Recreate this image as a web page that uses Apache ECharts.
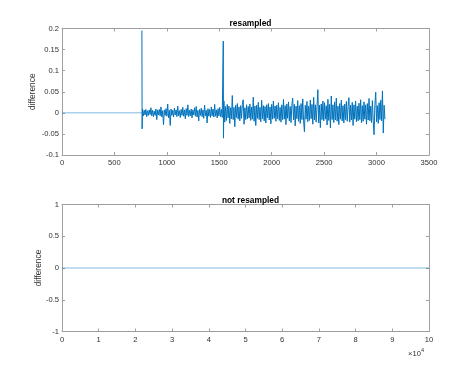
<!DOCTYPE html>
<html>
<head>
<meta charset="utf-8">
<script src="https://cdn.jsdelivr.net/npm/echarts@6/dist/echarts.min.js"></script>
<style>html,body{margin:0;padding:0;background:#fff;}#c{width:474px;height:373px;}</style>
</head>
<body>
<div id="c"></div>
<script>
// ---- data ----
var topXTicks = [0, 500, 1000, 1500, 2000, 2500, 3000, 3500];
var topYTicks = [-0.1, -0.05, 0, 0.05, 0.1, 0.15, 0.2];
var bottomXTicks = [0, 10000, 20000, 30000, 40000, 50000, 60000, 70000, 80000, 90000, 100000];
var bottomYTicks = [-1, -0.5, 0, 0.5, 1];

// flat part before the first jump (sample index, value)
var flatX = [0, 762];
var flatY = [0, 0];
// first spike
var spike1X = [762, 764];
var spike1Y = [0.195, -0.038];
// noise after first spike, one value every 8 samples
var noiseAStart = 768, noiseAStep = 8;
var noiseA = [
 0.009,-0.007,0.006,-0.005,0.008,-0.009,0.005,-0.006,0.007,-0.004,
 0.012,-0.007,0.006,-0.009,0.004,-0.006,0.009,-0.016,0.007,-0.005,
 0.008,-0.007,0.014,-0.010,0.005,-0.028,0.007,-0.006,0.010,-0.008,
 0.021,-0.012,0.006,-0.030,0.009,-0.006,0.006,-0.010,0.011,-0.005,
 0.007,-0.009,0.016,-0.007,0.005,-0.011,0.008,-0.006,0.013,-0.008,
 0.007,-0.014,0.010,-0.006,0.019,-0.009,0.006,-0.007,0.009,-0.012,
 0.007,-0.005,0.012,-0.008,0.015,-0.010,0.006,-0.019,0.008,-0.006,
 0.011,-0.009,0.007,-0.013,0.018,-0.007,0.006,-0.024,0.010,-0.008,
 0.008,-0.011,0.014,-0.007,0.009,-0.010,0.020,-0.008,0.007,-0.012,
 0.010,-0.007,0.013,-0.009,0.008,-0.011
];
// second spike
var spike2X = [1538, 1540];
var spike2Y = [0.17, -0.06];
// noise after second spike, one value every 8 samples
var noiseBStart = 1544, noiseBStep = 8;
var noiseB = [
 0.028,-0.022,0.015,-0.018,0.020,-0.012,0.016,-0.025,0.012,-0.014,
 0.041,-0.016,0.013,-0.033,0.018,-0.011,0.022,-0.015,0.014,-0.019,
 0.017,-0.013,0.020,0.031,-0.027,0.012,-0.016,0.019,-0.014,0.015,
 -0.012,0.021,-0.018,0.014,-0.015,0.037,-0.020,0.016,-0.030,0.018,
 -0.013,0.025,-0.016,0.013,-0.021,0.030,-0.014,0.017,-0.019,0.015,
 -0.024,0.019,-0.012,0.022,-0.017,0.014,-0.026,0.020,-0.015,0.028,
 -0.013,0.016,-0.020,0.018,-0.014,0.024,-0.018,0.013,-0.022,0.019,
 -0.016,0.032,-0.015,0.017,-0.028,0.021,-0.013,0.026,-0.019,0.015,
 -0.023,0.018,0.035,-0.017,0.020,-0.031,0.016,-0.014,0.029,-0.020,
 0.017,-0.025,0.022,-0.016,0.033,-0.019,-0.045,0.018,-0.015,0.027,
 -0.021,0.016,-0.018,0.030,-0.014,0.020,-0.027,0.037,-0.017,0.019,
 -0.022,0.015,0.055,-0.024,0.018,-0.035,0.021,-0.016,0.028,-0.019,
 0.024,-0.015,0.017,-0.029,0.032,-0.018,0.020,-0.036,0.040,-0.016,
 0.019,-0.023,0.026,-0.017,0.035,-0.020,0.016,-0.028,0.022,-0.015,
 0.030,-0.019,0.017,-0.024,0.021,-0.016,0.027,-0.020,0.015,0.036,
 -0.022,0.018,-0.017,0.025,-0.030,0.019,-0.015,0.028,-0.021,0.016,
 -0.019,0.023,-0.016,0.031,-0.024,0.017,-0.020,0.026,-0.015,0.019,
 -0.027,0.022,-0.017,0.034,-0.019,0.016,-0.023,0.029,-0.018,-0.052,
 0.020,0.049,-0.021,0.017,-0.025,0.024,-0.016,0.030,-0.019,0.052,
 -0.048,0.018,-0.015
];
// bottom panel: difference without resampling (all zero)
var bottomX = [0, 100000];
var bottomY = [0, 0];

// ---- build ----
function pairs(xs, ys) { return xs.map(function (x, i) { return [x, ys[i]]; }); }
function stepped(start, step, ys) { return ys.map(function (y, i) { return [start + i * step, y]; }); }
var flatData = pairs(flatX, flatY);
var noiseData = [].concat(
  pairs(spike1X, spike1Y),
  stepped(noiseAStart, noiseAStep, noiseA),
  pairs(spike2X, spike2Y),
  stepped(noiseBStart, noiseBStep, noiseB)
);
var bottomData = pairs(bottomX, bottomY);

var FONT = 'Liberation Sans';
var AX = '#a0a0a0';
var TXT = '#303030';
function xAx(grid, ticks, pos, labels, fmt) {
  return {
    type: 'value', gridIndex: grid, position: pos,
    min: ticks[0], max: ticks[ticks.length - 1],
    interval: ticks[1] - ticks[0],
    axisLine: { show: true, onZero: false, lineStyle: { color: AX, width: 1 } },
    axisTick: { show: true, inside: true, length: 3, lineStyle: { color: AX } },
    axisLabel: { show: labels, color: TXT, fontSize: 7.6, fontFamily: FONT, margin: 4,
      formatter: fmt || function (v) { return String(v); } },
    splitLine: { show: false }
  };
}
function yAx(grid, ticks, pos, labels, name, gap) {
  return {
    type: 'value', gridIndex: grid, position: pos,
    min: ticks[0], max: ticks[ticks.length - 1],
    interval: ticks[1] - ticks[0],
    name: name || '', nameLocation: 'middle', nameGap: gap || 0,
    nameMoveOverlap: false,
    nameTextStyle: { color: TXT, fontSize: 8.4, fontFamily: FONT },
    axisLine: { show: true, onZero: false, lineStyle: { color: AX, width: 1 } },
    axisTick: { show: true, inside: true, length: 3, lineStyle: { color: AX } },
    axisLabel: { show: labels, color: TXT, fontSize: 7.6, fontFamily: FONT, margin: 3 },
    splitLine: { show: false }
  };
}

var chart = echarts.init(document.getElementById('c'), null, { renderer: 'canvas' });
chart.setOption({
  animation: false,
  backgroundColor: '#ffffff',
  title: [
    { text: 'resampled', left: 245.5, textAlign: 'center', top: 15,
      textStyle: { fontSize: 8.4, fontWeight: 'bold', color: '#000', fontFamily: FONT } },
    { text: 'not resampled', left: 245.5, textAlign: 'center', top: 192,
      textStyle: { fontSize: 8.4, fontWeight: 'bold', color: '#000', fontFamily: FONT } }
  ],
  grid: [
    { left: 62, right: 45, top: 28.5, height: 126.5 },
    { left: 62, right: 45, top: 204.5, height: 127 }
  ],
  xAxis: [
    xAx(0, topXTicks, 'bottom', true),
    xAx(0, topXTicks, 'top', false),
    xAx(1, bottomXTicks, 'bottom', true, function (v) { return String(Math.round(v / 10000)); }),
    xAx(1, bottomXTicks, 'top', false)
  ],
  yAxis: [
    yAx(0, topYTicks, 'left', true, 'difference', 25),
    yAx(0, topYTicks, 'right', false),
    yAx(1, bottomYTicks, 'left', true, 'difference', 19),
    yAx(1, bottomYTicks, 'right', false)
  ],
  graphic: [
    { type: 'text', right: 50, top: 347,
      style: { text: '{a|\u00d710}{b|4}', fill: TXT, fontFamily: FONT,
        rich: { a: { fontSize: 7.6, fontFamily: FONT, fill: TXT, verticalAlign: 'bottom' },
                b: { fontSize: 5.5, fontFamily: FONT, fill: TXT, verticalAlign: 'top', padding: [0, 0, 5, 0] } } } }
  ],
  series: [
    { type: 'line', xAxisIndex: 0, yAxisIndex: 0, data: flatData, showSymbol: false,
      lineStyle: { color: '#0072BD', width: 0.5 }, silent: true },
    { type: 'line', xAxisIndex: 0, yAxisIndex: 0, data: noiseData, showSymbol: false,
      sampling: null, lineStyle: { color: '#0072BD', width: 1 }, silent: true },
    { type: 'line', xAxisIndex: 2, yAxisIndex: 2, data: bottomData, showSymbol: false,
      lineStyle: { color: '#0072BD', width: 0.5 }, silent: true }
  ]
});
</script>
</body>
</html>
